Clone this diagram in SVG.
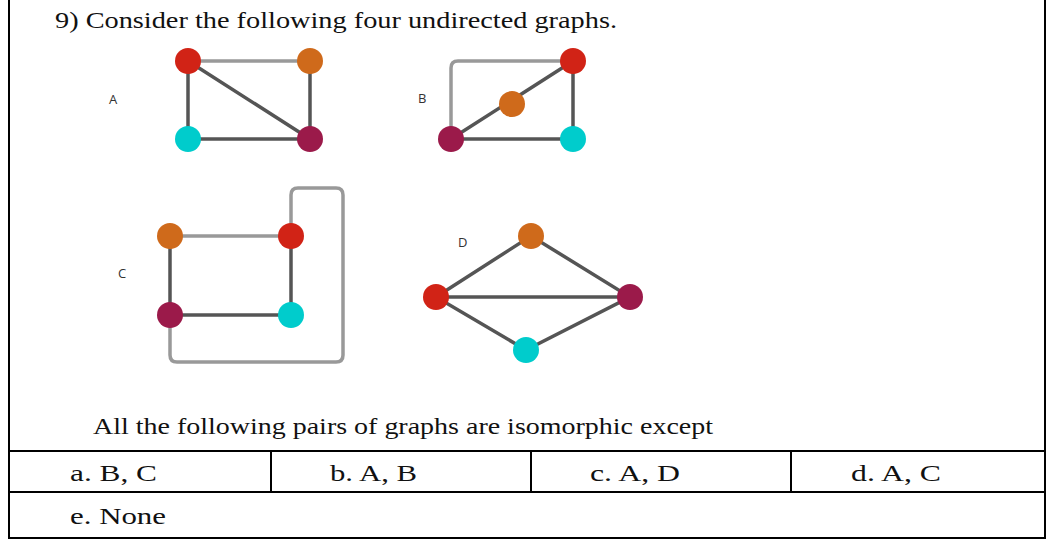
<svg xmlns="http://www.w3.org/2000/svg" width="1058" height="543" viewBox="0 0 1058 543">
<style>
.t{font-family:"Liberation Serif",serif;font-size:24px;fill:#111}
.l{font-family:"Open Sans","DejaVu Sans",sans-serif;font-size:13px;fill:#333}
.e{stroke:#555;stroke-width:3.5;fill:none}
.g{stroke:#999;stroke-width:3.5;fill:none}
.b{stroke:#000;stroke-width:2;fill:none}
.red{fill:#d12316}.or{fill:#cf6a1b}.cy{fill:#00cccc}.mr{fill:#9b1a4a}
</style>
<rect x="0" y="0" width="1058" height="543" fill="#fff"/>
<g id="table">
<path class="b" d="M9 0V538H1045V0M9 451H1045M9 492H1045M271 451V492M531 451V492M791 451V492"/>
</g>
<text class="t" x="55" y="28" textLength="562" lengthAdjust="spacingAndGlyphs">9)  Consider the following four undirected graphs.</text>
<text class="t" x="93" y="434" textLength="620" lengthAdjust="spacingAndGlyphs">All the following pairs of graphs are isomorphic except</text>
<text class="t" x="70" y="481" textLength="87" lengthAdjust="spacingAndGlyphs">a.  B, C</text>
<text class="t" x="330" y="481" textLength="87" lengthAdjust="spacingAndGlyphs">b.  A, B</text>
<text class="t" x="590" y="481" textLength="90" lengthAdjust="spacingAndGlyphs">c.  A, D</text>
<text class="t" x="851" y="481" textLength="90" lengthAdjust="spacingAndGlyphs">d.  A, C</text>
<text class="t" x="70" y="524" textLength="96" lengthAdjust="spacingAndGlyphs">e.  None</text>
<text class="l" x="109" y="104">A</text>
<text class="l" x="418" y="103">B</text>
<text class="l" x="118" y="278">C</text>
<text class="l" x="458" y="247">D</text>
<g id="connectors">
<path class="g" d="M188 61H310"/><path class="e" d="M188 61V139M310 61V139M188 139H310M188 61L310 139"/>
<path class="g" d="M451 139V68Q451 61 458 61H573"/><path class="e" d="M451 139L573 61M573 61V139M451 139H573"/>
<path class="g" d="M170 236H291"/><path class="e" d="M170 236V315M291 236V315M170 315H291"/>
<path class="g" d="M291 236V195Q291 188 298 188H336Q343 188 343 195V355Q343 362 336 362H177Q170 362 170 355V315"/>
<path class="e" d="M436 297L531 236L630 297L526 350ZM436 297H630"/>
</g>
<g id="A"><circle class="red" cx="188" cy="61" r="13"/><circle class="or" cx="310" cy="61" r="13"/><circle class="cy" cx="188" cy="139" r="13"/><circle class="mr" cx="310" cy="139" r="13"/></g>
<g id="B"><circle class="red" cx="573" cy="61" r="13"/><circle class="or" cx="512" cy="104" r="13"/><circle class="mr" cx="451" cy="139" r="13"/><circle class="cy" cx="573" cy="139" r="13"/></g>
<g id="C"><circle class="or" cx="170" cy="236" r="13"/><circle class="red" cx="291" cy="236" r="13"/><circle class="mr" cx="170" cy="315" r="13"/><circle class="cy" cx="291" cy="315" r="13"/></g>
<g id="D"><circle class="or" cx="531" cy="236" r="13"/><circle class="red" cx="436" cy="297" r="13"/><circle class="mr" cx="630" cy="297" r="13"/><circle class="cy" cx="526" cy="350" r="13"/></g>
</svg>
